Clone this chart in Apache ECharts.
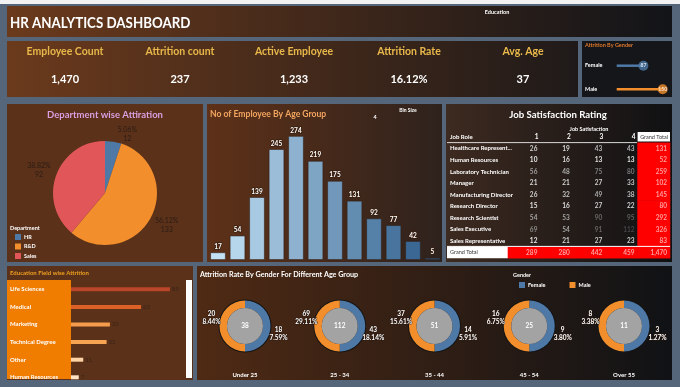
<!DOCTYPE html>
<html><head><meta charset="utf-8">
<script src="https://cdn.jsdelivr.net/npm/echarts@6/dist/echarts.min.js"></script>
<style>html,body{margin:0;padding:0;background:#fff}#c{width:680px;height:387px}</style>
</head><body><div id="c"></div><script>
// ---------------- DATA ----------------
const kpiLabels = ['Employee Count','Attrition count','Active Employee','Attrition Rate','Avg. Age'];
const kpiValues = ['1,470','237','1,233','16.12%','37'];
const genderCats = ['Female','Male'];
const genderAttrition = [87,150];
const deptNames = ['HR','R&D','Sales'];
const deptAttrition = [12,133,92];
const ageBins = ['16','20','24','28','32','36','40','44','48','52','56','60'];
const ageCounts = [17,54,139,245,274,219,175,131,92,77,42,5];
const jobRoles = ['Healthcare Represent...','Human Resources','Laboratory Technician','Manager','Manufacturing Director','Research Director','Research Scientist','Sales Executive','Sales Representative'];
const js1 = [26,10,56,21,26,15,54,69,12];
const js2 = [19,16,48,21,32,16,53,54,21];
const js3 = [43,13,75,27,49,27,90,91,27];
const js4 = [43,13,80,33,38,22,95,112,23];
const roleTotals = [131,52,259,102,145,80,292,326,83];
const jsColTotals = [289,280,442,459,1470];
const jsHeaders = ['1','2','3','4','Grand Total'];
const eduFields = ['Life Sciences','Medical','Marketing','Technical Degree','Other','Human Resources'];
const eduAttrition = [89,63,35,32,11,7];
const ageGroups = ['Under 25','25 - 34','35 - 44','45 - 54','Over 55'];
const femaleAttr = [18,43,14,9,3];
const maleAttr = [20,69,37,16,8];
const femalePct = ['7.59%','18.14%','5.91%','3.80%','1.27%'];
const malePct = ['8.44%','29.11%','15.61%','6.75%','3.38%'];
const groupTotals = [38,112,51,25,11];
const femaleArc = [50,50,50,50,50];   // ring split as drawn
const maleArc = [50,50,50,50,50];

// ---------------- STYLE ----------------
const FONT = 'Lato, "Open Sans", sans-serif';
const BLUE = '#4e79a7', ORANGE = '#f28e2b', RED = '#e15759';
const BORDER = '#56667a';
const eduColors = ['#b9452b','#dd6126','#f59b4c','#f6a452','#fcd3a5','#fde2c4'];
function lg(c0,c1){return new echarts.graphic.LinearGradient(0,0,1,0,[{offset:0,color:c0},{offset:1,color:c1}]);}
function panel(x,y,w,h,fill){return {type:'rect',shape:{x:x,y:y,width:w,height:h},style:{fill:fill},z:-10,silent:true};}
function txt(t,x,y,size,color,align,weight){return {type:'text',z:50,silent:true,style:{text:t,x:x,y:y,fill:color,fontSize:size,fontWeight:weight||'bold',fontFamily:FONT,align:align||'left',verticalAlign:'middle'}};}
function mix(a,b,t){const pa=[1,3,5].map(i=>parseInt(a.substr(i,2),16)),pb=[1,3,5].map(i=>parseInt(b.substr(i,2),16));return 'rgb('+pa.map((v,i)=>Math.round(v+(pb[i]-v)*t)).join(',')+')';}
function valColor(v){const l=Math.max(70,Math.min(240,Math.round(248-v*1.6)));return 'rgb('+l+','+l+','+l+')';}
function fmt(v){return v.toLocaleString('en-US');}

const chart = echarts.init(document.getElementById('c'));

// ---------- graphic: panels & texts ----------
const g = [];
g.push(panel(0,0,680,387,BORDER));
g.push(panel(0,0,680,4,'#f2f2f2'));
g.push(panel(7,6,665,31,lg('#6b3a1c','#121418')));
g.push(panel(7,41,571,56,lg('#6b3a1c','#1f1a19')));
g.push(panel(582,41,90,56,'#14161a'));
g.push(panel(7,104,196,158,'#5b3119'));
g.push(panel(207,104,235,158,lg('#5e3118','#2e221d')));
g.push(panel(446,104,226,158,lg('#3d2a20','#101113')));
g.push(panel(7,266,186,114,'#5b3119'));
g.push(panel(7,280,64,99,'#f07c00'));
g.push(panel(186,280,6,98,'#ffffff'));
g.push(panel(197,266,475,114,lg('#4f2a14','#101215')));
const title = txt('HR ANALYTICS DASHBOARD',10,22.5,15.5,'#ffffff','left');
title.scaleX = 0.86; title.originX = 10; title.originY = 22.5;
g.push(title);
g.push(txt('Education',497,12,5.5,'#ffffff','center'));
const kpiX = [65,180,294,409,523];
kpiLabels.forEach((l,i)=>{g.push(txt(l,kpiX[i],52,10.5,'#e8b84b','center'));g.push(txt(kpiValues[i],kpiX[i],79.5,11,'#ffffff','center'));});
g.push(txt('Attrition By Gender',585,45.5,5.5,'#e0782a','left'));
g.push(txt('Department wise Attiration',105,114.5,9.5,'#d99fe0','center'));
g.push(txt('Department',10,228,5.5,'#ffffff','left'));
g.push(txt('No of Employee By Age Group',210,114,8.6,'#f3a560','left'));
g.push(txt('Bin Size',408,110.5,5,'#ffffff','center'));
g.push(txt('4',375,117,5.5,'#ffffff','center'));
g.push(txt('Job Satisfaction Rating',558,115,9.6,'#ffffff','center'));
g.push(txt('Job Satisfaction',589,129,5.5,'#ffffff','center'));
g.push({type:'line',z:40,silent:true,shape:{x1:447,y1:142.6,x2:637,y2:142.6},style:{stroke:'#d8d8d8',lineWidth:1}});
g.push({type:'line',z:40,silent:true,shape:{x1:447,y1:246.4,x2:670,y2:246.4},style:{stroke:'#ffffff',lineWidth:1}});
g.push(txt('Education Field wise Attrition',10,273,6,'#f0a020','left'));
g.push(txt('Attrition Rate By Gender For Different Age Group',200,275,7.2,'#ffffff','left'));
g.push(txt('Gender',513,275,5.5,'#ffffff','left'));
const donutCX = ageGroups.map((_,i)=>245+i*94.75);
ageGroups.forEach((a,i)=>g.push(txt(a,donutCX[i],375.5,6,'#ffffff','center')));

// ---------- table cells ----------
const tableRows = ['Job Role'].concat(jobRoles,['Grand Total']);
const jsCols = [js1,js2,js3,js4,roleTotals];
const cellData = [];
jobRoles.forEach((_,r)=>{for(let c=0;c<5;c++)cellData.push([c,r+1,jsCols[c][r]]);});
jsColTotals.forEach((v,c)=>cellData.push([c,10,v]));
const headerData = jsHeaders.map((_,c)=>[c,0]);

// ---------- series ----------
const series = [];
// gender lollipop
series.push({type:'bar',xAxisIndex:0,yAxisIndex:0,data:genderAttrition.map((v,i)=>({value:v,itemStyle:{color:[BLUE,ORANGE][i]}})),barWidth:2.5,silent:true});
series.push({type:'scatter',xAxisIndex:0,yAxisIndex:0,data:genderAttrition.map((v,i)=>({value:v,itemStyle:{color:[BLUE,ORANGE][i]}})),symbolSize:10,
  label:{show:true,position:'inside',color:'#fff',fontSize:5,fontWeight:'bold',fontFamily:FONT},silent:true});
// age bars
series.push({type:'bar',xAxisIndex:1,yAxisIndex:1,barCategoryGap:'20%',
  data:ageCounts.map((v,i)=>({value:v,itemStyle:{color:mix('#c4e2f6','#2c5b89',i/11),borderColor:'rgba(50,30,20,0.7)',borderWidth:0.8}})),
  label:{show:true,position:'top',distance:2,color:'#fff',fontSize:6.5,fontWeight:'bold',fontFamily:FONT,textBorderColor:'#3a2010',textBorderWidth:1.5}});
// table header
series.push({type:'custom',xAxisIndex:2,yAxisIndex:2,data:headerData,silent:true,renderItem:function(params,api){
  const c=api.value(0),r=api.value(1);const p=api.coord([c,r]);const s=api.size([1,1]);const kids=[];
  if(c===4)kids.push({type:'rect',shape:{x:p[0]-s[0]/2,y:p[1]-s[1]/2+0.8,width:s[0],height:s[1]-2},style:{fill:'#ffffff'}});
  kids.push({type:'text',style:{x:p[0]+s[0]/2-2,y:p[1],text:jsHeaders[params.dataIndex],align:'right',verticalAlign:'middle',fill:c===4?'#333':'#ffffff',fontSize:c===4?5.5:6.5,fontWeight:c===4?'normal':'bold',fontFamily:FONT}});
  return {type:'group',children:kids};}});
// table cells
series.push({type:'custom',xAxisIndex:2,yAxisIndex:2,data:cellData,silent:true,renderItem:function(params,api){
  const c=api.value(0),r=api.value(1),v=api.value(2);const p=api.coord([c,r]);const s=api.size([1,1]);
  const red=(c===4||r===10);const kids=[];
  if(red)kids.push({type:'rect',shape:{x:p[0]-s[0]/2-0.3,y:p[1]-s[1]/2-0.3,width:s[0]+0.6,height:s[1]+0.6},style:{fill:'#ff0000'}});
  kids.push({type:'text',style:{x:p[0]+s[0]/2-3,y:p[1],text:fmt(v),align:'right',verticalAlign:'middle',fill:red?'#ff9f9f':valColor(v),fontSize:6.5,fontWeight:'bold',fontFamily:FONT}});
  return {type:'group',children:kids};}});
// education bars
series.push({type:'bar',xAxisIndex:3,yAxisIndex:3,barWidth:4,
  data:eduAttrition.map((v,i)=>({value:v,itemStyle:{color:eduColors[i]}})),
  label:{show:true,position:'right',distance:2,color:'#3a2418',fontSize:6,fontFamily:FONT}});
// department pie
series.push({type:'pie',center:[105,193],radius:52,startAngle:90,clockwise:true,
  data:deptNames.map((n,i)=>({name:n,value:deptAttrition[i],itemStyle:{color:[BLUE,ORANGE,RED][i]}})),
  label:{show:true,position:'outside',formatter:'{d}%\n{c}',color:'#2b1c15',fontSize:7,lineHeight:9,fontFamily:FONT,overflow:'none'},
  labelLine:{show:false,length:13,length2:0},
  labelLayout:function(p){return p.dataIndex===0?{align:'center',dx:7,dy:5}:{align:'center'};},emphasis:{disabled:true}});
// donuts
ageGroups.forEach((a,i)=>{
  const cx=donutCX[i];
  series.push({type:'pie',center:[cx,326],radius:[0,26.5],silent:true,label:{show:false},labelLine:{show:false},data:[{name:'outline',value:1,itemStyle:{color:'#151515'}}],emphasis:{disabled:true}});
  series.push({type:'pie',center:[cx,326],radius:[18,25.5],startAngle:90,clockwise:true,
    data:[{name:'Female',value:femaleArc[i],itemStyle:{color:BLUE},label:{formatter:femaleAttr[i]+'\n'+femalePct[i]}},
          {name:'Male',value:maleArc[i],itemStyle:{color:ORANGE},label:{formatter:maleAttr[i]+'\n'+malePct[i]}}],
    label:{show:true,position:'outside',color:'#ffffff',fontSize:6.5,lineHeight:8.5,fontWeight:'bold',fontFamily:FONT,textBorderColor:'#2a1a10',textBorderWidth:1,overflow:'none'},
    labelLine:{show:false,length:3,length2:0},
    labelLayout:function(p){return {dy:p.dataIndex===0?8:-8,align:'center'};},emphasis:{disabled:true}});
  series.push({type:'pie',center:[cx,326],radius:[0,18],silent:true,
    data:[{name:'total',value:groupTotals[i],itemStyle:{color:'#a3a3a3'}}],
    label:{show:true,position:'center',formatter:String(groupTotals[i]),color:'#fff',fontSize:6.5,fontWeight:'bold',fontFamily:FONT},labelLine:{show:false},emphasis:{disabled:true}});
});

const hid = {show:false};
const option = {
  animation:false,
  backgroundColor:'transparent',
  graphic:{elements:g},
  legend:[
    {data:deptNames,orient:'vertical',left:10,top:229,itemWidth:6,itemHeight:6,itemGap:3.5,icon:'rect',selectedMode:false,
     textStyle:{color:'#fff',fontSize:5.5,fontWeight:'bold',fontFamily:FONT,padding:[0,0,0,-2]}},
    {data:['Female','Male'],orient:'horizontal',left:514,top:277,itemWidth:6,itemHeight:6,itemGap:24,icon:'rect',selectedMode:false,
     textStyle:{color:'#fff',fontSize:5.5,fontWeight:'bold',fontFamily:FONT,padding:[0,0,0,-2]}}
  ],
  grid:[
    {left:616.7,width:46,top:53.9,height:47.2},
    {left:208.25,width:234,top:124.2,bottom:127},
    {left:508,right:10,top:131.2,bottom:128.7},
    {left:71,width:111.2,top:280.5,height:105.6}
  ],
  xAxis:[
    {gridIndex:0,type:'value',min:0,max:150,show:false},
    {gridIndex:1,type:'category',data:ageBins,show:false},
    {gridIndex:2,type:'category',data:jsHeaders,show:false},
    {gridIndex:3,type:'value',min:0,max:100,show:false}
  ],
  yAxis:[
    {gridIndex:0,type:'category',data:genderCats,inverse:true,axisLine:hid,axisTick:hid,
     axisLabel:{margin:31.7,align:'left',color:'#fff',fontSize:5.5,fontWeight:'bold',fontFamily:FONT}},
    {gridIndex:1,type:'value',min:0,max:300,show:false},
    {gridIndex:2,type:'category',data:tableRows,inverse:true,axisLine:hid,axisTick:hid,splitLine:hid,
     axisLabel:{margin:61,align:'left',interval:0,formatter:function(v){return v==='Grand Total'?'{gt|'+v+'}':'{b|'+v+'}';},
       rich:{b:{color:'#fff',fontSize:6,fontWeight:'bold',fontFamily:FONT,padding:[0,0,0,3]},
             gt:{color:'#333',fontSize:5.5,fontFamily:FONT,backgroundColor:'#fff',width:58,height:11.5,padding:[0,0,0,3]}}}},
    {gridIndex:3,type:'category',data:eduFields,inverse:true,axisLine:hid,axisTick:hid,
     axisLabel:{margin:61,align:'left',interval:0,color:'#fff',fontSize:6,fontWeight:'bold',fontFamily:FONT}}
  ],
  series:series
};
chart.setOption(option);
</script></body></html>
